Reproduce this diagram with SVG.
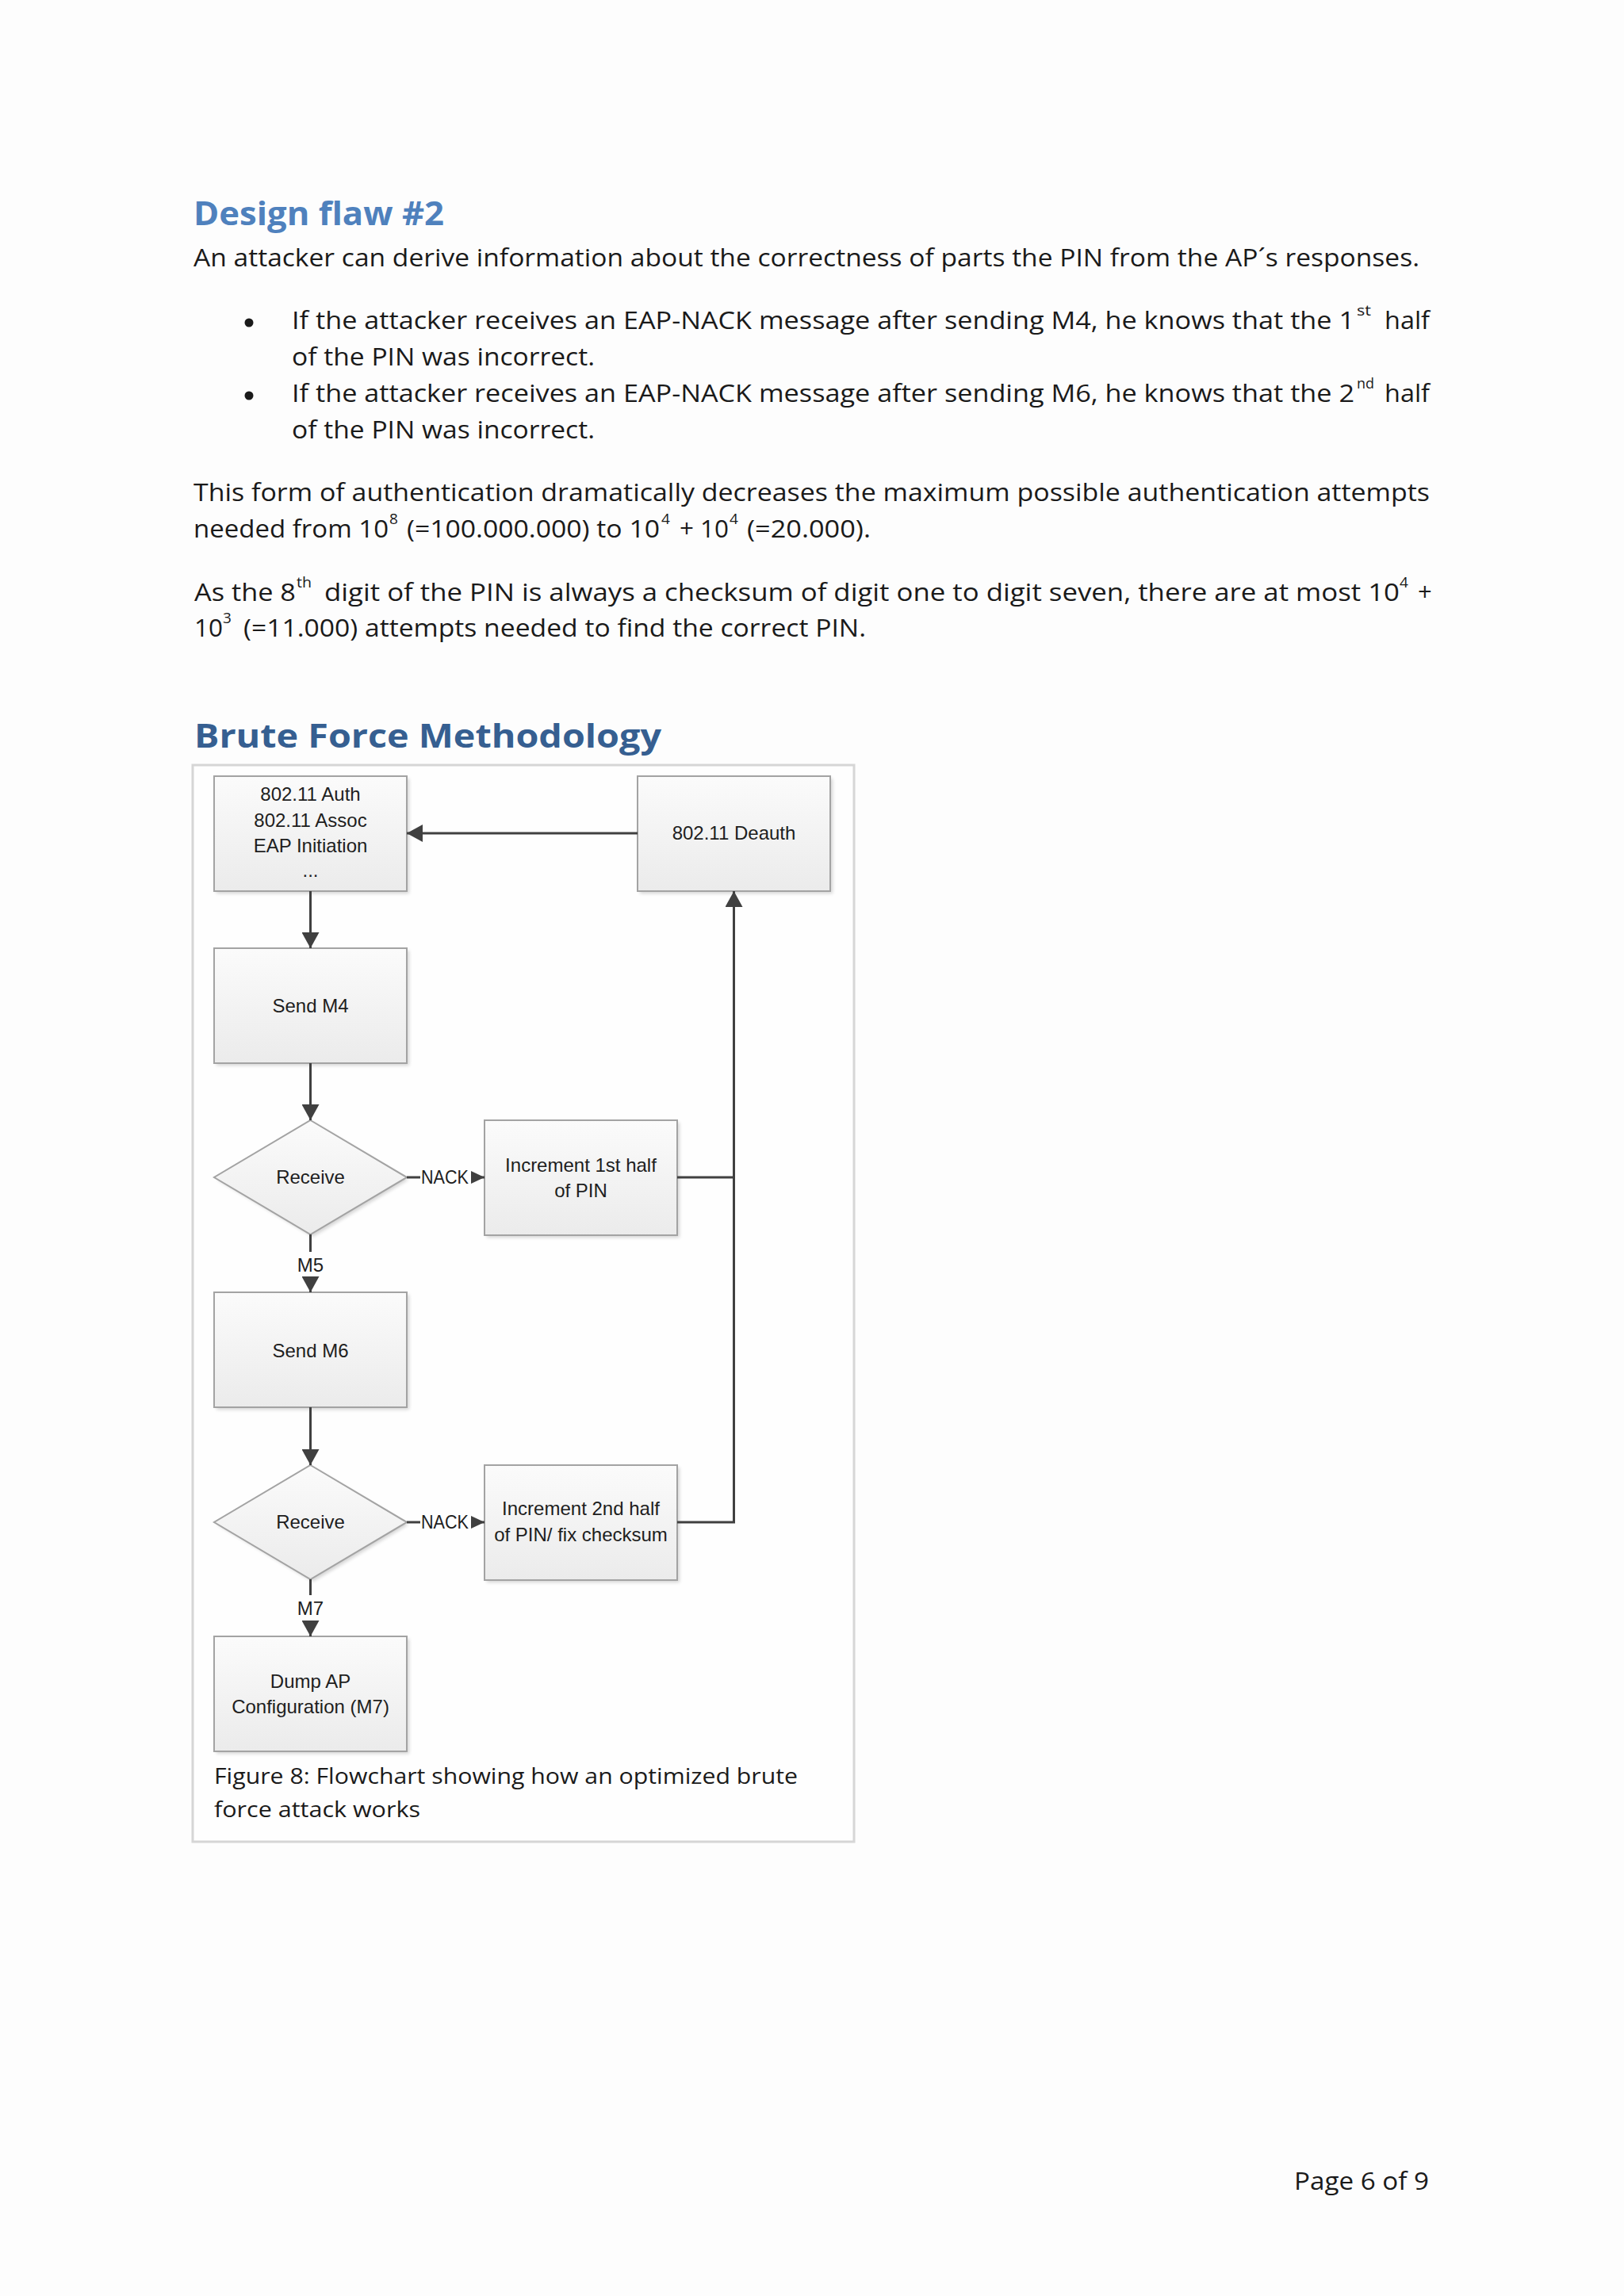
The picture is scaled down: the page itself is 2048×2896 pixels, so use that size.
<svg xmlns="http://www.w3.org/2000/svg" width="2048" height="2896" viewBox="0 0 2048 2896">
<style>
.body{font-family:"Open Sans","Noto Sans",sans-serif;font-size:31px;fill:#1a1a1a}
.sup{font-family:"Open Sans","Noto Sans",sans-serif;font-size:19px;fill:#1a1a1a}
.h1{font-family:"Open Sans","Noto Sans",sans-serif;font-size:41px;font-weight:bold;fill:#4f81bd}
.h2{font-family:"Open Sans","Noto Sans",sans-serif;font-size:41px;font-weight:bold;fill:#365f91}
.cap{font-family:"Open Sans","Noto Sans",sans-serif;font-size:28px;fill:#1a1a1a}
.nt{font-family:"Liberation Sans",Arial,sans-serif;font-size:24px;fill:#1e1e1e;text-anchor:middle}
.lb{font-family:"Liberation Sans",Arial,sans-serif;font-size:24px;fill:#1e1e1e}
.box{fill:url(#g);stroke:#a3a3a3;stroke-width:2}
.sh{fill:#000;opacity:0.16;filter:url(#blur)}
.con{fill:none;stroke:#404040;stroke-width:3}
</style>
<defs>
<linearGradient id="g" x1="0" y1="0" x2="0" y2="1">
<stop offset="0" stop-color="#fbfbfb"/>
<stop offset="1" stop-color="#ebebeb"/>
</linearGradient>
<filter id="blur" x="-10%" y="-10%" width="120%" height="120%"><feGaussianBlur stdDeviation="2"/></filter>
<marker id="arr" viewBox="0 0 20 22" refX="20" refY="11" markerWidth="20" markerHeight="22" markerUnits="userSpaceOnUse" orient="auto"><path d="M0,0 L20,11 L0,22 z" fill="#404040"/></marker>
<marker id="arrs" viewBox="0 0 17 16" refX="17" refY="8" markerWidth="17" markerHeight="16" markerUnits="userSpaceOnUse" orient="auto"><path d="M0,0 L17,8 L0,16 z" fill="#404040"/></marker>
</defs>
<rect x="0" y="0" width="2048" height="2896" fill="#fdfdfd"/>

<!-- page text -->
<text class="h1" x="244" y="284" textLength="316" lengthAdjust="spacingAndGlyphs">Design flaw #2</text>
<text class="body" x="244" y="336" textLength="1546" lengthAdjust="spacingAndGlyphs">An attacker can derive information about the correctness of parts the PIN from the AP´s responses.</text>

<circle cx="314" cy="407" r="5.5" fill="#1a1a1a"/>
<text class="body" x="368" y="415" textLength="1340" lengthAdjust="spacingAndGlyphs">If the attacker receives an EAP-NACK message after sending M4, he knows that the 1</text>
<text class="sup" x="1711" y="398" textLength="18" lengthAdjust="spacingAndGlyphs">st</text>
<text class="body" x="1746" y="415" textLength="57" lengthAdjust="spacingAndGlyphs">half</text>
<text class="body" x="368" y="461" textLength="382" lengthAdjust="spacingAndGlyphs">of the PIN was incorrect.</text>

<circle cx="314" cy="499" r="5.5" fill="#1a1a1a"/>
<text class="body" x="368" y="507" textLength="1340" lengthAdjust="spacingAndGlyphs">If the attacker receives an EAP-NACK message after sending M6, he knows that the 2</text>
<text class="sup" x="1711" y="490" textLength="22" lengthAdjust="spacingAndGlyphs">nd</text>
<text class="body" x="1746" y="507" textLength="57" lengthAdjust="spacingAndGlyphs">half</text>
<text class="body" x="368" y="553" textLength="382" lengthAdjust="spacingAndGlyphs">of the PIN was incorrect.</text>

<text class="body" x="244" y="632" textLength="1559" lengthAdjust="spacingAndGlyphs">This form of authentication dramatically decreases the maximum possible authentication attempts</text>
<text class="body" x="244" y="678" textLength="246" lengthAdjust="spacingAndGlyphs">needed from 10</text>
<text class="sup" x="491" y="661">8</text>
<text class="body" x="513" y="678" textLength="319" lengthAdjust="spacingAndGlyphs">(=100.000.000) to 10</text>
<text class="sup" x="834" y="661">4</text>
<text class="body" x="857" y="678" textLength="62" lengthAdjust="spacingAndGlyphs">+ 10</text>
<text class="sup" x="920" y="661">4</text>
<text class="body" x="942" y="678" textLength="156" lengthAdjust="spacingAndGlyphs">(=20.000).</text>

<text class="body" x="245" y="758" textLength="128" lengthAdjust="spacingAndGlyphs">As the 8</text>
<text class="sup" x="374" y="741" textLength="19" lengthAdjust="spacingAndGlyphs">th</text>
<text class="body" x="409" y="758" textLength="1356" lengthAdjust="spacingAndGlyphs">digit of the PIN is always a checksum of digit one to digit seven, there are at most 10</text>
<text class="sup" x="1765" y="741">4</text>
<text class="body" x="1788" y="758">+</text>
<text class="body" x="245" y="803" textLength="36" lengthAdjust="spacingAndGlyphs">10</text>
<text class="sup" x="281" y="786">3</text>
<text class="body" x="307" y="803" textLength="785" lengthAdjust="spacingAndGlyphs">(=11.000) attempts needed to find the correct PIN.</text>

<text class="h2" x="245" y="943" textLength="589" lengthAdjust="spacingAndGlyphs">Brute Force Methodology</text>

<!-- figure frame -->
<rect x="243" y="965" width="834" height="1358" fill="#fefefe" stroke="#d6d6d6" stroke-width="3"/>

<!-- nodes -->
<g id="n-init">
<rect class="sh" x="273" y="982" width="243" height="145"/>
<rect class="box" x="270" y="979" width="243" height="145"/>
<text class="nt" x="391.5" y="1010">802.11 Auth</text>
<text class="nt" x="391.5" y="1043">802.11 Assoc</text>
<text class="nt" x="391.5" y="1075">EAP Initiation</text>
<text class="nt" x="391.5" y="1106">...</text>
</g>
<g id="n-deauth">
<rect class="sh" x="807" y="982" width="243" height="145"/>
<rect class="box" x="804" y="979" width="243" height="145"/>
<text class="nt" x="925.5" y="1059">802.11 Deauth</text>
</g>
<g id="n-sendm4">
<rect class="sh" x="273" y="1199" width="243" height="145"/>
<rect class="box" x="270" y="1196" width="243" height="145"/>
<text class="nt" x="391.5" y="1277">Send M4</text>
</g>
<g id="n-recv1">
<path class="sh" d="M394.5,1416 L515,1488 L394.5,1560 L274,1488 Z"/>
<path class="box" d="M391.5,1413 L513,1485 L391.5,1557 L270,1485 Z"/>
<text class="nt" x="391.5" y="1493">Receive</text>
</g>
<g id="n-inc1">
<rect class="sh" x="614" y="1416" width="243" height="145"/>
<rect class="box" x="611" y="1413" width="243" height="145"/>
<text class="nt" x="732.5" y="1478">Increment 1st half</text>
<text class="nt" x="732.5" y="1510">of PIN</text>
</g>
<g id="n-sendm6">
<rect class="sh" x="273" y="1633" width="243" height="145"/>
<rect class="box" x="270" y="1630" width="243" height="145"/>
<text class="nt" x="391.5" y="1712">Send M6</text>
</g>
<g id="n-recv2">
<path class="sh" d="M394.5,1851 L515,1923 L394.5,1995 L274,1923 Z"/>
<path class="box" d="M391.5,1848 L513,1920 L391.5,1992 L270,1920 Z"/>
<text class="nt" x="391.5" y="1928">Receive</text>
</g>
<g id="n-inc2">
<rect class="sh" x="614" y="1851" width="243" height="145"/>
<rect class="box" x="611" y="1848" width="243" height="145"/>
<text class="nt" x="732.5" y="1911">Increment 2nd half</text>
<text class="nt" x="732.5" y="1944">of PIN/ fix checksum</text>
</g>
<g id="n-dump">
<rect class="sh" x="273" y="2067" width="243" height="145"/>
<rect class="box" x="270" y="2064" width="243" height="145"/>
<text class="nt" x="391.5" y="2129">Dump AP</text>
<text class="nt" x="391.5" y="2161">Configuration (M7)</text>
</g>

<!-- connectors -->
<g id="connectors">
<line class="con" x1="804" y1="1051" x2="513" y2="1051" marker-end="url(#arr)"/>
<line class="con" x1="391.5" y1="1124" x2="391.5" y2="1196" marker-end="url(#arr)"/>
<line class="con" x1="391.5" y1="1341" x2="391.5" y2="1413" marker-end="url(#arr)"/>
<line class="con" x1="513" y1="1485" x2="530" y2="1485"/>
<line class="con" x1="594" y1="1485" x2="611" y2="1485" marker-end="url(#arrs)"/>
<text class="lb" x="531" y="1493" textLength="60" lengthAdjust="spacingAndGlyphs">NACK</text>
<line class="con" x1="391.5" y1="1557" x2="391.5" y2="1579"/>
<text class="nt" x="391.5" y="1604">M5</text>
<line class="con" x1="391.5" y1="1612" x2="391.5" y2="1630" marker-end="url(#arr)"/>
<line class="con" x1="391.5" y1="1775" x2="391.5" y2="1848" marker-end="url(#arr)"/>
<line class="con" x1="513" y1="1920" x2="530" y2="1920"/>
<line class="con" x1="594" y1="1920" x2="611" y2="1920" marker-end="url(#arrs)"/>
<text class="lb" x="531" y="1928" textLength="60" lengthAdjust="spacingAndGlyphs">NACK</text>
<line class="con" x1="391.5" y1="1992" x2="391.5" y2="2012"/>
<text class="nt" x="391.5" y="2037">M7</text>
<line class="con" x1="391.5" y1="2045" x2="391.5" y2="2064" marker-end="url(#arr)"/>
<line class="con" x1="854" y1="1485" x2="925.5" y2="1485"/>
<polyline class="con" points="854,1920 925.5,1920 925.5,1124" marker-end="url(#arr)"/>
</g>

<text class="cap" x="270" y="2250" textLength="736" lengthAdjust="spacingAndGlyphs">Figure 8: Flowchart showing how an optimized brute</text>
<text class="cap" x="270" y="2292" textLength="260" lengthAdjust="spacingAndGlyphs">force attack works</text>

<text class="body" x="1632" y="2762" textLength="170" lengthAdjust="spacingAndGlyphs">Page 6 of 9</text>
</svg>
